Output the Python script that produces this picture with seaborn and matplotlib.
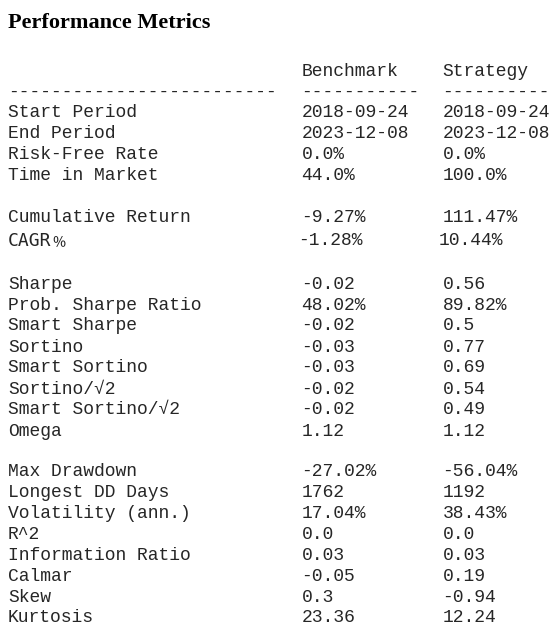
import matplotlib
matplotlib.use('Agg')
import matplotlib.pyplot as plt
import seaborn as sns

sns.set_style('white')
plt.rcParams['font.family'] = ['Liberation Mono', 'DejaVu Sans Mono']

# table content
title = 'Performance Metrics'
columns = ['Benchmark', 'Strategy']
metrics = ['Start Period', 'End Period', 'Risk-Free Rate', 'Time in Market',
           'Cumulative Return', 'CAGR﹪',
           'Sharpe', 'Prob. Sharpe Ratio', 'Smart Sharpe', 'Sortino', 'Smart Sortino',
           'Sortino/√2', 'Smart Sortino/√2', 'Omega',
           'Max Drawdown', 'Longest DD Days', 'Volatility (ann.)', 'R^2',
           'Information Ratio', 'Calmar', 'Skew', 'Kurtosis']
benchmark = ['2018-09-24', '2023-12-08', '0.0%', '44.0%',
             '-9.27%', '-1.28%',
             '-0.02', '48.02%', '-0.02', '-0.03', '-0.03', '-0.02', '-0.02', '1.12',
             '-27.02%', '1762', '17.04%', '0.0', '0.03', '-0.05', '0.3', '23.36']
strategy = ['2018-09-24', '2023-12-08', '0.0%', '100.0%',
            '111.47%', '10.44%',
            '0.56', '89.82%', '0.5', '0.77', '0.69', '0.54', '0.49', '1.12',
            '-56.04%', '1192', '38.43%', '0.0', '0.03', '0.19', '-0.94', '12.24']

# layout (pixel baselines)
row_y = [117, 138, 159, 180,
         222, 245,
         289, 309.5, 330.5, 351.5, 372.5, 393.5, 414.5, 435.5,
         476, 497, 518, 539, 560, 581, 601.5, 622]
x_label, x_bench, x_strat = 8, 301.5, 442.5

fig = plt.figure(figsize=(5.57, 6.37), dpi=100)
ax = fig.add_axes([0, 0, 1, 1])
ax.set_xlim(0, 557)
ax.set_ylim(637, 0)
ax.axis('off')

ax.text(8, 28, title, fontsize=16, fontweight='bold',
        family=['Liberation Serif', 'DejaVu Serif'], va='baseline', color='black')

fs = 13
ax.text(x_bench, 76, columns[0], fontsize=fs, va='baseline')
ax.text(x_strat, 76, columns[1], fontsize=fs, va='baseline')
ax.text(x_label, 97, '-' * 25, fontsize=fs, va='baseline')
ax.text(x_bench, 97, '-' * 11, fontsize=fs, va='baseline')
ax.text(x_strat, 97, '-' * 10, fontsize=fs, va='baseline')

for name, b, s, y in zip(metrics, benchmark, strategy, row_y):
    if name.startswith('CAGR'):
        ax.text(x_label, y, name, fontsize=fs, va='baseline',
                family=['DejaVu Sans Mono', 'Noto Sans CJK SC'])
        ax.text(x_bench - 3.5, y, b, fontsize=fs, va='baseline')
        ax.text(x_strat - 4, y, s, fontsize=fs, va='baseline')
    else:
        ax.text(x_label, y, name, fontsize=fs, va='baseline')
        ax.text(x_bench, y, b, fontsize=fs, va='baseline')
        ax.text(x_strat, y, s, fontsize=fs, va='baseline')

fig.savefig('out.png', dpi=100)
